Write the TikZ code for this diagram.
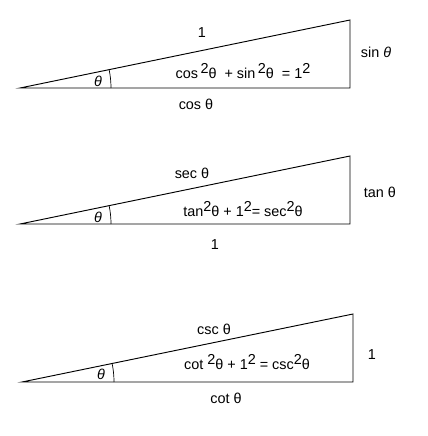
\documentclass[tikz,border=0pt]{standalone}
\usepackage{fontspec}
\setmainfont{Liberation Sans}
\newcommand{\sq}{\raisebox{0.6ex}{2}}

\begin{document}
\begin{tikzpicture}[x=0.03cm, y=-0.03cm, font=\fontsize{12.3}{14}\selectfont]
	\useasboundingbox (0,0) rectangle (428,436);
	\tikzset{side/.style={line width=0.8pt}, lbl/.style={inner sep=0pt}}
	% first triangle
	\coordinate (A1) at (20,88);
	\coordinate (B1) at (350,88);
	\coordinate (C1) at (350,20);
	\draw[side] (A1) -- (B1) -- (C1) -- cycle;
	\draw[line width=0.6pt] (A1) ++(91,0) arc (0:-11.6:91);
	\node[lbl] (H1) at (202,33) {1};
	\node[lbl] (O1) at (376,52) {sin \textit{θ}};
	\node[lbl] (D1) at (196,104) {cos θ};
	\node[lbl] (T1) at (98,81) {\textit{θ}};
	\node[lbl] (F1) at (243,71) {cos\,\sq θ \ + sin\,\sq θ \ = 1\sq};
	% second triangle
	\coordinate (A2) at (20,224);
	\coordinate (B2) at (350,224);
	\coordinate (C2) at (350,156);
	\draw[side] (A2) -- (B2) -- (C2) -- cycle;
	\draw[line width=0.6pt] (A2) ++(91,0) arc (0:-11.6:91);
	\node[lbl] (H2) at (192,173) {sec θ};
	\node[lbl] (O2) at (380,192) {tan θ};
	\node[lbl] (D2) at (215,245) {1};
	\node[lbl] (T2) at (98,217) {\textit{θ}};
	\node[lbl] (F2) at (243,209) {tan\sq θ + 1\sq= sec\sq θ};
	% third triangle
	\coordinate (A3) at (22,382);
	\coordinate (B3) at (353,382);
	\coordinate (C3) at (353,314);
	\draw[side] (A3) -- (B3) -- (C3) -- cycle;
	\draw[line width=0.6pt] (A3) ++(92,0) arc (0:-11.6:92);
	\node[lbl] (H3) at (214,329) {csc θ};
	\node[lbl] (O3) at (372,355) {1};
	\node[lbl] (D3) at (226,398) {cot θ};
	\node[lbl] (T3) at (101,374) {\textit{θ}};
	\node[lbl] (F3) at (247,362) {cot \sq θ + 1\sq\ = csc\sq θ};
\end{tikzpicture}
\end{document}
